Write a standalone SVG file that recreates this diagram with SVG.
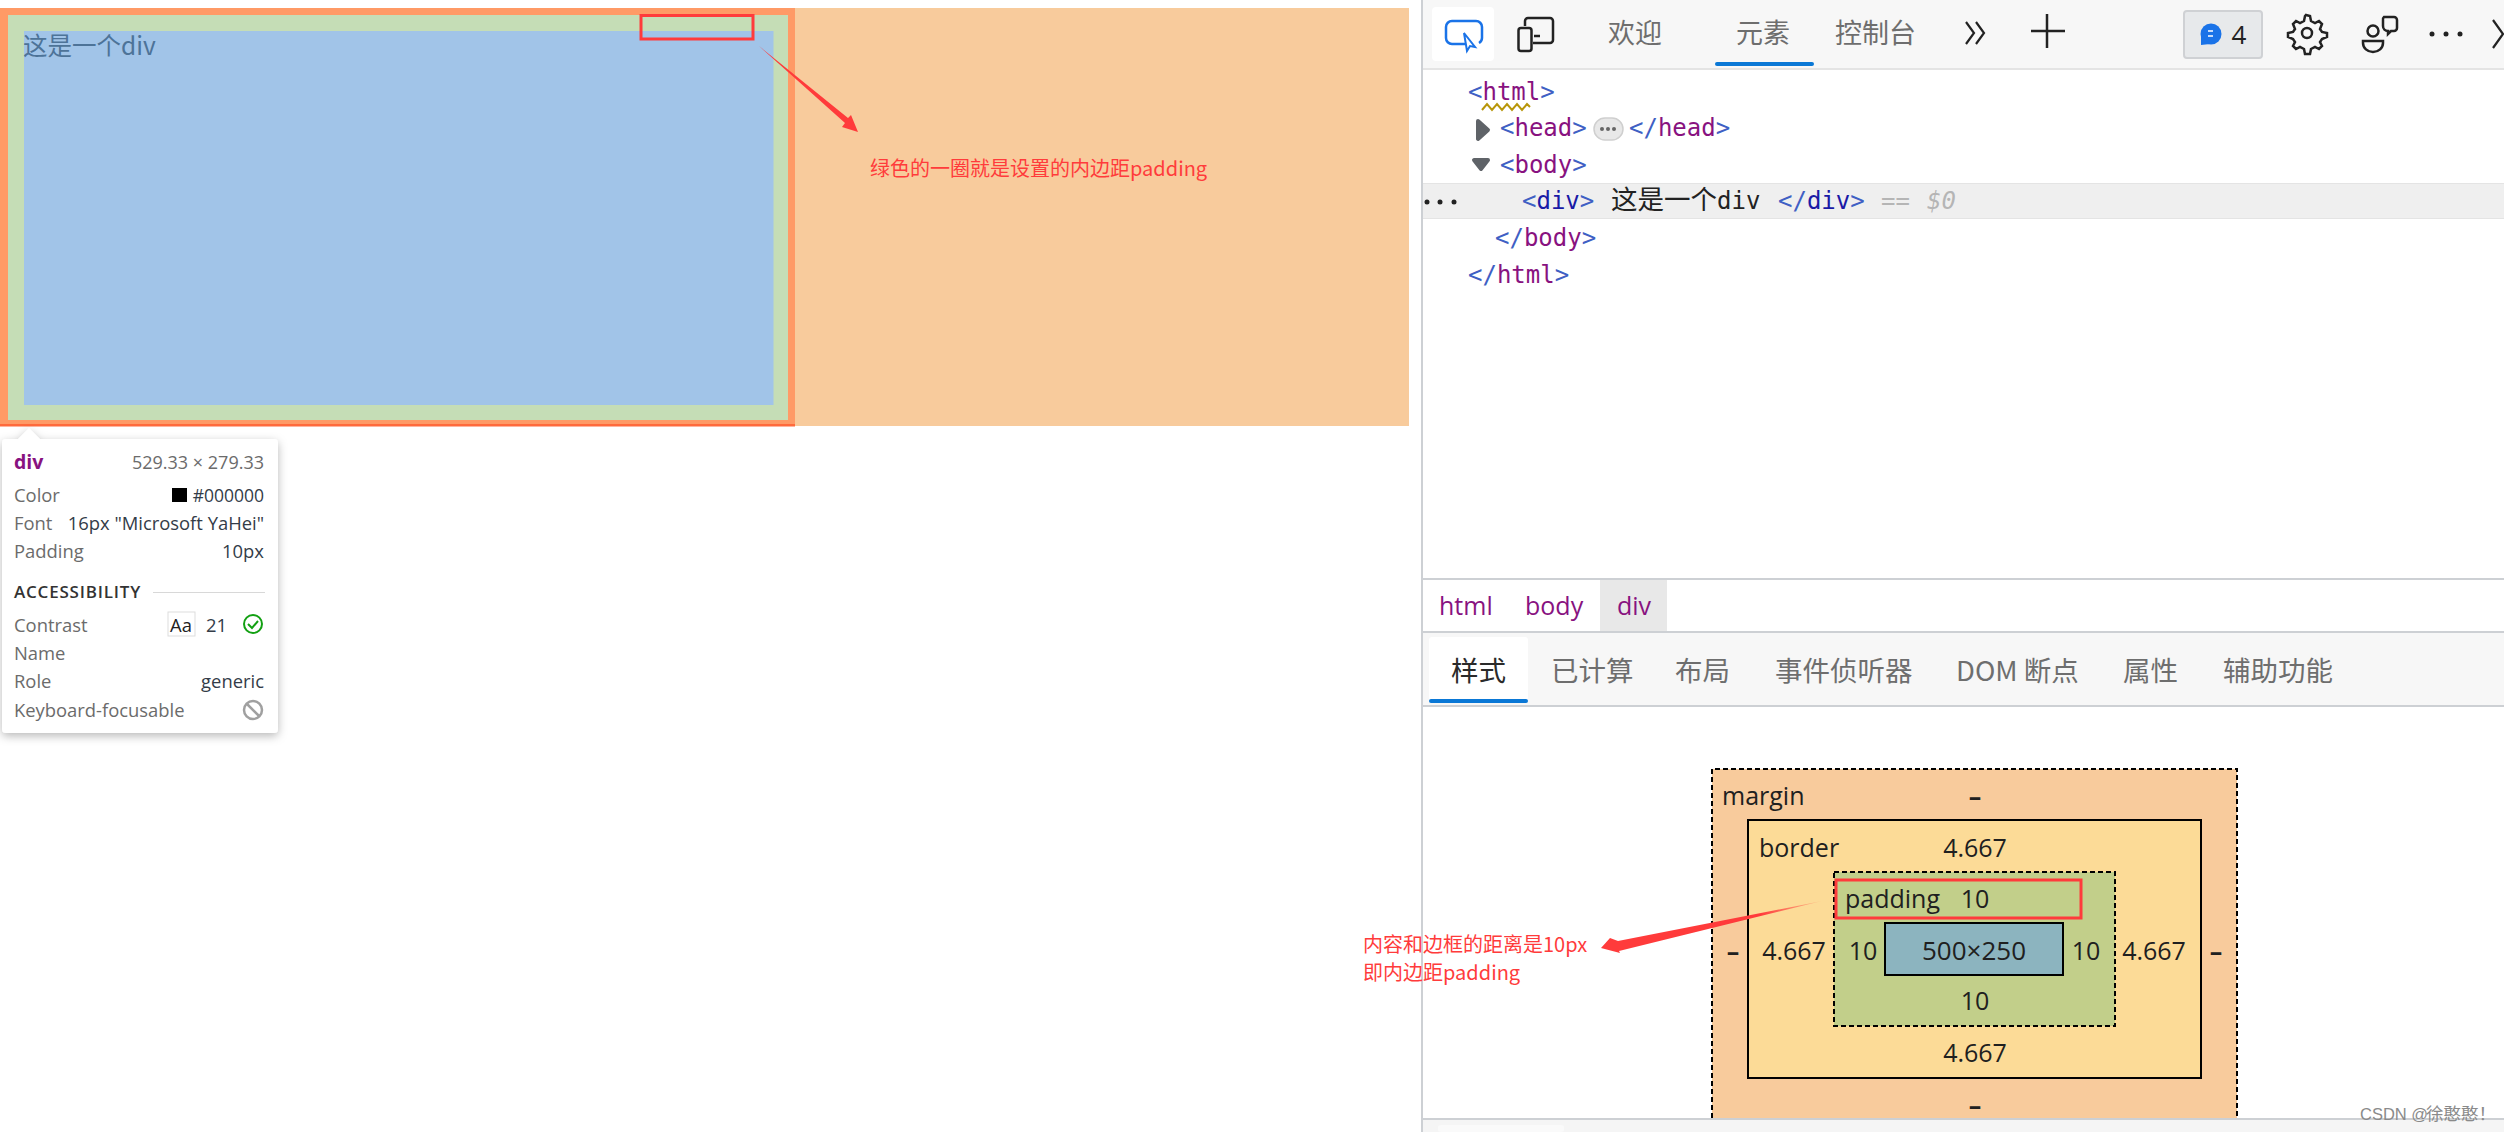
<svg xmlns="http://www.w3.org/2000/svg" width="2504" height="1132" viewBox="0 0 2504 1132">
<style>
.cjk{font-family:"Noto Sans CJK SC","Open Sans",sans-serif}
.m{font-family:"DejaVu Sans Mono","Noto Sans CJK SC",monospace;font-size:24px}
.br{fill:#3f5fc4}.tg{fill:#881280}
.red{font-family:"Noto Sans CJK SC",sans-serif;font-size:20px;fill:#ff3b3b}
.tip{font-family:"Open Sans",sans-serif;font-size:18.4px;fill:#6b6b6b}
.tipv{font-family:"Open Sans",sans-serif;font-size:18.4px;fill:#333c48;text-anchor:end}
.tab{font-family:"Noto Sans CJK SC",sans-serif;font-size:27px;fill:#6e6e6e}
.bx{font-family:"Open Sans",sans-serif;font-size:25px;fill:#202020}
.c{text-anchor:middle}
.b{font-weight:700}
.dash{fill:none;stroke:#000;stroke-width:2;stroke-dasharray:5 3}
.solid{stroke:#000;stroke-width:2}
.ic{fill:none;stroke:#222;stroke-width:2.5}
</style>
<defs>
<filter id="sh" x="-20%" y="-20%" width="140%" height="140%"><feDropShadow dx="0" dy="3" stdDeviation="5" flood-color="#000" flood-opacity=".28"/></filter>
<linearGradient id="fade" gradientUnits="userSpaceOnUse" x1="1822" y1="901" x2="1760" y2="914"><stop offset="0" stop-color="#ff3b3b" stop-opacity=".15"/><stop offset="1" stop-color="#ff3b3b"/></linearGradient>
</defs>
<rect width="2504" height="1132" fill="#fff"/>

<g id="page-highlight">
<rect x="795" y="8" width="614" height="418" fill="#f8cb9c"/>
<rect x="0" y="8" width="795" height="418" fill="#ff9a66"/>
<rect x="0" y="424" width="795" height="2.5" fill="#ff6a3c"/>
<rect x="8" y="15" width="780" height="405" fill="#c5ddb6"/>
<rect x="24" y="31" width="749.5" height="374" fill="#a1c4e8"/>
<text x="23" y="55" class="cjk" font-size="24.5" fill="#4d7398">这是一个div</text>
<rect x="641" y="15.5" width="112" height="23.5" fill="none" stroke="#ff3b3b" stroke-width="3"/>
</g>

<g id="page-note">
<text x="870" y="176" class="red">绿色的一圈就是设置的内边距padding</text>
</g>

<g id="tooltip">
<path d="M2 443a4 4 0 0 1 4-4H18L29 428L40 439H274a4 4 0 0 1 4 4V729a4 4 0 0 1-4 4H6a4 4 0 0 1-4-4Z" fill="#fff" filter="url(#sh)"/>
<text x="14" y="469" font-family="Open Sans,sans-serif" font-weight="700" font-size="19.5" fill="#881280">div</text>
<text x="264" y="469" class="tip" text-anchor="end" style="font-size:18px">529.33 × 279.33</text>
<text x="14" y="502" class="tip">Color</text>
<rect x="172" y="488" width="15" height="14" fill="#000"/>
<text x="264" y="502" class="tipv" style="font-size:17.5px">#000000</text>
<text x="14" y="530" class="tip">Font</text>
<text x="264" y="530" class="tipv">16px "Microsoft YaHei"</text>
<text x="14" y="558" class="tip">Padding</text>
<text x="264" y="558" class="tipv">10px</text>
<text x="14" y="598" font-family="Open Sans,sans-serif" font-weight="600" font-size="17" letter-spacing=".8" fill="#333">ACCESSIBILITY</text>
<rect x="153" y="592" width="112" height="1" fill="#d8d8d8"/>
<text x="14" y="632" class="tip">Contrast</text>
<rect x="168" y="612" width="27" height="24" fill="#fff" stroke="#ddd"/>
<text x="181" y="632" font-family="Open Sans,sans-serif" font-size="18.4" fill="#222" text-anchor="middle">Aa</text>
<text x="227" y="632" class="tipv">21</text>
<circle cx="253" cy="624" r="9" fill="none" stroke="#12a012" stroke-width="2"/>
<path d="M248 624l4 4 6-7" fill="none" stroke="#12a012" stroke-width="2"/>
<text x="14" y="660" class="tip">Name</text>
<text x="14" y="688" class="tip">Role</text>
<text x="264" y="688" class="tipv">generic</text>
<text x="14" y="717" class="tip">Keyboard-focusable</text>
<circle cx="253" cy="710" r="9" fill="none" stroke="#a0a0a0" stroke-width="2.5"/>
<path d="M247 704l12 12" stroke="#a0a0a0" stroke-width="2.5"/>
</g>

<g id="devtools-frame">
<rect x="1421" y="0" width="2" height="1132" fill="#cdd0d4"/>
<rect x="1423" y="0" width="1081" height="68" fill="#f7f7f7"/>
<rect x="1423" y="68" width="1081" height="2" fill="#e4e4e4"/>
<rect x="1423" y="578" width="1081" height="2" fill="#cdd0d4"/>
<rect x="1423" y="631" width="1081" height="2" fill="#cdd0d4"/>
<rect x="1423" y="633" width="1081" height="73" fill="#f7f7f7"/>
<rect x="1423" y="705" width="1081" height="2" fill="#cdd0d4"/>
<rect x="1423" y="1119" width="1081" height="13" fill="#f5f5f5"/>
<rect x="1423" y="1118" width="1081" height="2" fill="#cdd0d4"/>
<rect x="1438" y="1125" width="126" height="7" rx="3" fill="#fafafa"/>
</g>

<g id="toolbar">
<rect x="1432" y="7" width="62" height="54" rx="4" fill="#fff"/>
<path d="M1465 44h-13a6 6 0 0 1-6-6V27a6 6 0 0 1 6-6h24a6 6 0 0 1 6 6v11a6 6 0 0 1-3 5" fill="none" stroke="#1a73e8" stroke-width="2.5"/>
<path d="M1464 33l3 18 3-5 5 1Z" fill="#fff" stroke="#1a73e8" stroke-width="2"/>
<path d="M1525 26v-5a3 3 0 0 1 3-3h22a3 3 0 0 1 3 3v19a3 3 0 0 1-3 3h-17" class="ic"/>
<rect x="1518.5" y="28" width="13" height="23" rx="2.5" class="ic"/>
<path d="M1534 36h6" class="ic"/>
<text x="1608" y="43" class="tab">欢迎</text>
<text x="1736" y="43" class="tab">元素</text>
<text x="1835" y="43" class="tab">控制台</text>
<rect x="1715" y="62" width="99" height="4" rx="2" fill="#0a78d6"/>
<path d="M1966 22l8 11-8 11M1976 22l8 11-8 11" fill="none" stroke="#222" stroke-width="2.2"/>
<path d="M2047 14v34M2031 31h34" stroke="#222" stroke-width="2.5"/>
<rect x="2184" y="11" width="78" height="47" rx="3" fill="#e7e9eb" stroke="#cfd1d4" stroke-width="2"/>
<circle cx="2211" cy="34" r="10.5" fill="#1a73e8"/>
<path d="M2201 36v9l9-1Z" fill="#1a73e8"/>
<path d="M2208 31h5M2208 36h5" stroke="#fff" stroke-width="1.5"/>
<text x="2239" y="44" font-family="Open Sans,sans-serif" font-size="26" fill="#222" text-anchor="middle">4</text>
<path d="M2307 16l4 1 1 5 4 2 4-2 3 3-2 5 2 3 5 1v4l-5 2-2 3 2 4-3 3-4-2-4 2-1 5h-5l-1-5-4-2-4 2-3-3 2-4-2-3-5-2v-4l5-1 2-3-2-5 3-3 4 2 4-2 1-5Z" class="ic" transform="translate(-1 -1)"/>
<circle cx="2307" cy="33" r="5" class="ic"/>
<circle cx="2373" cy="31" r="5.5" class="ic"/>
<path d="M2363 41h20v2a10 9 0 0 1-20 0Z" class="ic"/>
<path d="M2384 17h10a3 3 0 0 1 3 3v8a3 3 0 0 1-3 3h-3l-3 3v-3a5 5 0 0 1-5-5v-6a3 3 0 0 1 1-3Z" class="ic"/>
<circle cx="2432" cy="34" r="2.5" fill="#222"/><circle cx="2446" cy="34" r="2.5" fill="#222"/><circle cx="2460" cy="34" r="2.5" fill="#222"/>
<path d="M2493 20l10 14-10 14" fill="none" stroke="#222" stroke-width="2.2"/>
</g>

<g id="dom-tree">
<rect x="1423" y="183" width="1081" height="35" fill="#efefef"/>
<rect x="1423" y="183" width="1081" height="1" fill="#e4e4e4"/><rect x="1423" y="218" width="1081" height="1" fill="#e4e4e4"/>
<text x="1468" y="100" class="m"><tspan class="br">&lt;</tspan><tspan class="tg">html</tspan><tspan class="br">&gt;</tspan></text>
<path d="M1482 110l5-6 5 6 5-6 5 6 5-6 5 6 5-6 5 6 5-6 3 3" fill="none" stroke="#b8960a" stroke-width="2"/>
<path d="M1478 121l10 9-10 9Z" fill="#5f6368" stroke="#5f6368" stroke-width="4" stroke-linejoin="round"/>
<text x="1500" y="136" class="m"><tspan class="br">&lt;</tspan><tspan class="tg">head</tspan><tspan class="br">&gt;</tspan></text>
<rect x="1594" y="118" width="29" height="22" rx="11" fill="#e8e8e8" stroke="#cfcfcf" stroke-width="1.5"/>
<circle cx="1602" cy="129" r="2" fill="#666"/><circle cx="1608" cy="129" r="2" fill="#666"/><circle cx="1614" cy="129" r="2" fill="#666"/>
<text x="1629" y="136" class="m"><tspan class="br">&lt;/</tspan><tspan class="tg">head</tspan><tspan class="br">&gt;</tspan></text>
<path d="M1474 160h14l-7 9Z" fill="#5f6368" stroke="#5f6368" stroke-width="4" stroke-linejoin="round"/>
<text x="1500" y="173" class="m"><tspan class="br">&lt;</tspan><tspan class="tg">body</tspan><tspan class="br">&gt;</tspan></text>
<circle cx="1427" cy="202" r="2.5" fill="#222"/><circle cx="1440" cy="202" r="2.5" fill="#222"/><circle cx="1454" cy="202" r="2.5" fill="#222"/>
<text x="1522" y="209" class="m"><tspan class="br">&lt;</tspan><tspan fill="#1a1aa6">div</tspan><tspan class="br">&gt;</tspan></text>
<text x="1611" y="209" class="m" fill="#222"><tspan font-size="26.5">这是一个</tspan>div</text>
<text x="1778" y="209" class="m"><tspan class="br">&lt;/</tspan><tspan fill="#1a1aa6">div</tspan><tspan class="br">&gt;</tspan></text>
<text x="1881" y="209" class="m" fill="#b5b5b5">==</text>
<text x="1927" y="209" class="m" fill="#b5b5b5" font-style="italic">$0</text>
<text x="1495" y="246" class="m"><tspan class="br">&lt;/</tspan><tspan class="tg">body</tspan><tspan class="br">&gt;</tspan></text>
<text x="1468" y="283" class="m"><tspan class="br">&lt;/</tspan><tspan class="tg">html</tspan><tspan class="br">&gt;</tspan></text>
</g>

<g id="breadcrumb">
<rect x="1600" y="580" width="67" height="51" fill="#e8e8e8"/>
<text x="1439" y="615" font-family="Open Sans,sans-serif" font-size="25" fill="#881280">html</text>
<text x="1525" y="615" font-family="Open Sans,sans-serif" font-size="25" fill="#881280">body</text>
<text x="1617" y="615" font-family="Open Sans,sans-serif" font-size="25" fill="#881280">div</text>
</g>

<g id="tabs">
<path d="M1429 640a3 3 0 0 1 3-3h93a3 3 0 0 1 3 3v60h-99Z" fill="#fff"/>
<rect x="1429" y="699" width="99" height="4" rx="2" fill="#0a78d6"/>
<text x="1451" y="681" class="tab" style="fill:#2a2a2a;font-size:27.5px">样式</text>
<text x="1551" y="681" class="tab" style="font-size:27.5px">已计算</text>
<text x="1675" y="681" class="tab" style="font-size:27.5px">布局</text>
<text x="1775" y="681" class="tab" style="font-size:27.5px">事件侦听器</text>
<text x="1956" y="681" class="tab" style="font-size:27.5px">DOM 断点</text>
<text x="2123" y="681" class="tab" style="font-size:27.5px">属性</text>
<text x="2223" y="681" class="tab" style="font-size:27.5px">辅助功能</text>
</g>

<g id="box-model">
<path d="M1712 1118V769H2237V1118Z" fill="#f8cb9c"/>
<path d="M1712 1118V769H2237V1118" class="dash"/>
<rect x="1748" y="820" width="453" height="258" fill="#fcdb97" class="solid"/>
<rect x="1834" y="872" width="281" height="154" fill="#c2cf8a"/>
<rect x="1834" y="872" width="281" height="154" class="dash"/>
<rect x="1885" y="923" width="178" height="52" fill="#8cb4bf" class="solid"/>
<rect x="1836" y="880" width="245" height="38" fill="none" stroke="#ff3b3b" stroke-width="3"/>
<text x="1722" y="805" class="bx">margin</text>
<text x="1975" y="805" class="bx c b">–</text>
<text x="1759" y="857" class="bx">border</text>
<text x="1975" y="857" class="bx c">4.667</text>
<text x="1845" y="908" class="bx">padding</text>
<text x="1975" y="908" class="bx c">10</text>
<text x="1733" y="960" class="bx c b">–</text>
<text x="1794" y="960" class="bx c">4.667</text>
<text x="1863" y="960" class="bx c">10</text>
<text x="1974" y="960" class="bx c" style="font-size:26px">500×250</text>
<text x="2086" y="960" class="bx c">10</text>
<text x="2154" y="960" class="bx c">4.667</text>
<text x="2216" y="960" class="bx c b">–</text>
<text x="1975" y="1010" class="bx c">10</text>
<text x="1975" y="1062" class="bx c">4.667</text>
<text x="1975" y="1114" class="bx c b">–</text>
</g>

<g id="box-note">
<text x="1363" y="952" class="red">内容和边框的距离是10px</text>
<text x="1363" y="980" class="red">即内边距padding</text>
</g>

<g id="connectors">
<path d="M759 46L848 118L851 115L858 132L842 127L845 123Z" fill="#ff3b3b"/>
<path d="M1822 901L1618 941L1610 938L1601 948L1620 953L1619 951Z" fill="url(#fade)"/>
</g>

<g id="watermark">
<text x="2360" y="1120" font-family="Liberation Sans,Noto Sans CJK SC,sans-serif" font-size="16.5" fill="#8a8a8a">CSDN @<tspan x="2426" font-size="17.5">徐憨憨！</tspan></text>
</g>
</svg>
